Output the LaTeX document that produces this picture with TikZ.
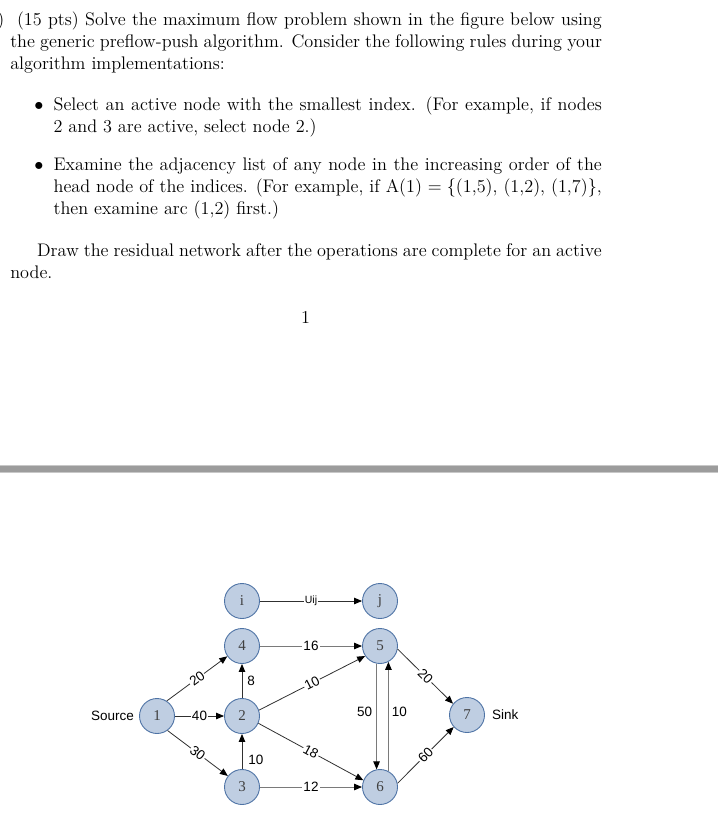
\documentclass[tikz,border=0pt]{standalone}
\usepackage{fontspec}
\newfontfamily\labfont{Liberation Sans}
\newfontfamily\vtxfont{Liberation Serif}
\usetikzlibrary{arrows.meta}
\definecolor{nfill}{HTML}{BFCEE2}
\definecolor{nline}{HTML}{4E73A5}
\definecolor{ntext}{HTML}{404040}
\definecolor{edgec}{HTML}{303030}
\definecolor{edgeg}{HTML}{7A7A7A}
\definecolor{barmid}{HTML}{9C9C9C}
\definecolor{barlight}{HTML}{C8C8C8}
\tikzset{
  vtx/.style={circle, minimum size=35pt, inner sep=0pt, fill=nfill, draw=nline, line width=0.9pt, text=ntext, font=\vtxfont\fontsize{15}{15}\selectfont},
  arc/.style={draw=edgec, line width=0.8pt, -{Triangle[length=8pt,width=6.5pt,color=black]}},
  garc/.style={arc, draw=edgeg, line width=1pt},
  elab/.style={fill=white, inner sep=1pt, font=\labfont\fontsize{13.5}{13.5}\selectfont, text=black},
  side/.style={inner sep=1pt, font=\labfont\fontsize{13.5}{13.5}\selectfont, text=black},
  tline/.style={anchor=base west, inner sep=0pt, scale=1.517, font=\fontsize{12}{14.5}\selectfont},
  ptxt/.style={inner sep=0pt, scale=1.517, font=\fontsize{12}{14.5}\selectfont},
}
\begin{document}
\begin{tikzpicture}[x=1pt,y=-1pt]
\useasboundingbox (0,0) rectangle (718,816);
% text
\node[ptxt, anchor=base east] (par0) at (4.5,26) {)};
\node[tline] (l1) at (16.7,26) {\makebox[385.5pt][s]{(15 pts) Solve the maximum flow problem shown in the figure below using}};
\node[tline] (l2) at (10,48) {\makebox[390pt][s]{the generic preflow-push algorithm. Consider the following rules during your}};
\node[tline] (l3) at (10,70) {algorithm implementations:};
\node[ptxt, anchor=base] (b1) at (39,110) {$\bullet$};
\node[tline] (l4) at (53.3,110) {\makebox[361.4pt][s]{Select an active node with the smallest index. (For example, if nodes}};
\node[tline] (l5) at (53.3,132) {2 and 3 are active, select node 2.)};
\node[ptxt, anchor=base] (b2) at (39,170) {$\bullet$};
\node[tline] (l6) at (53.3,170) {\makebox[361.4pt][s]{Examine the adjacency list of any node in the increasing order of the}};
\node[tline] (l7) at (53.3,192) {\makebox[361.4pt][s]{head node of the indices. (For example, if A(1) $=\{$(1,5), (1,2), (1,7)$\}$,}};
\node[tline] (l8) at (53.3,214) {then examine arc (1,2) first.)};
\node[tline] (l9) at (36.7,256) {\makebox[372.3pt][s]{Draw the residual network after the operations are complete for an active}};
\node[tline] (l10) at (10,278) {node.};
\node[ptxt, anchor=base] (pg) at (305.5,323) {1};
% bar
\fill[barmid] (0,465) rectangle (718,472.5);
\fill[barlight] (0,465) rectangle (718,466);
\fill[barlight] (0,471.5) rectangle (718,472.5);
% graph
\node[vtx] (ni) at (242,601) {i};
\node[vtx] (nj) at (380,601) {j};
\node[vtx] (n4) at (242,646) {4};
\node[vtx] (n5) at (380,646) {5};
\node[vtx] (n1) at (157,716) {1};
\node[vtx] (n2) at (242,716) {2};
\node[vtx] (n3) at (242,787) {3};
\node[vtx] (n6) at (380,787) {6};
\node[vtx] (n7) at (467,715) {7};
\node[side, anchor=east] (src) at (135,716) {Source};
\node[side, anchor=west] (snk) at (491,715) {Sink};
\draw[arc] (ni) -- node[elab, font=\labfont\fontsize{10.5}{10.5}\selectfont]{Uij} (nj);
\draw[garc] (n4) -- node[elab]{16} (n5);
\draw[arc] (n1.57) -- node[elab, sloped]{20} (n4.215);
\draw[arc] (n1) -- node[elab]{40} (n2);
\draw[arc] (n1.-54) -- node[elab, sloped]{30} (n3.142);
\draw[arc] (n2) -- node[side, right, xshift=4pt]{8} (n4);
\draw[arc] (n3) -- node[side, right, pos=0.27, xshift=5pt]{10} (n2);
\draw[arc] (n2.19) -- node[elab, sloped]{10} (n5.214);
\draw[arc] (n2.-24) -- node[elab, sloped]{18} (n6.158);
\draw[garc] (n3) -- node[elab]{12} (n6);
\draw[garc] (n5.259) -- node[side, left, pos=0.46, xshift=-3pt]{50} (n6.101);
\draw[garc] (n6.62) -- node[side, right, pos=0.54, xshift=2pt]{10} (n5.-62);
\draw[arc] (n5.-10) -- node[elab, sloped]{20} (n7.141);
\draw[arc] (n6.12) -- node[elab, sloped]{60} (n7.222);
\end{tikzpicture}
\end{document}
